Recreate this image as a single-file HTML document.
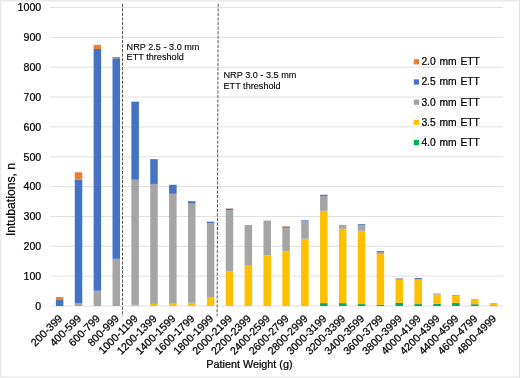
<!DOCTYPE html><html><head><meta charset="utf-8"><style>
html,body{margin:0;padding:0;background:#fff;}
svg{display:block;font-family:"Liberation Sans",Arial,sans-serif;}text{stroke:#000;stroke-width:0.22px;} .ann{stroke-width:0.1px;}
</style></head><body>
<svg width="520" height="378" viewBox="0 0 520 378">
<rect x="0" y="0" width="520" height="378" fill="#fff"/>
<line x1="50.2" y1="306" x2="503.08" y2="306" stroke="#e0e0e0" stroke-width="1"/>
<line x1="50.2" y1="276.15" x2="503.08" y2="276.15" stroke="#e0e0e0" stroke-width="1"/>
<line x1="50.2" y1="246.3" x2="503.08" y2="246.3" stroke="#e0e0e0" stroke-width="1"/>
<line x1="50.2" y1="216.45" x2="503.08" y2="216.45" stroke="#e0e0e0" stroke-width="1"/>
<line x1="50.2" y1="186.6" x2="503.08" y2="186.6" stroke="#e0e0e0" stroke-width="1"/>
<line x1="50.2" y1="156.75" x2="503.08" y2="156.75" stroke="#e0e0e0" stroke-width="1"/>
<line x1="50.2" y1="126.9" x2="503.08" y2="126.9" stroke="#e0e0e0" stroke-width="1"/>
<line x1="50.2" y1="97.05" x2="503.08" y2="97.05" stroke="#e0e0e0" stroke-width="1"/>
<line x1="50.2" y1="67.2" x2="503.08" y2="67.2" stroke="#e0e0e0" stroke-width="1"/>
<line x1="50.2" y1="37.35" x2="503.08" y2="37.35" stroke="#e0e0e0" stroke-width="1"/>
<line x1="50.2" y1="7.5" x2="503.08" y2="7.5" stroke="#e0e0e0" stroke-width="1"/>
<rect x="55.89" y="300.03" width="7.5" height="5.97" fill="#4472C4"/>
<rect x="55.89" y="297.05" width="7.5" height="2.98" fill="#ED7D31"/>
<rect x="74.76" y="303.01" width="7.5" height="2.98" fill="#A5A5A5"/>
<rect x="74.76" y="179.73" width="7.5" height="123.28" fill="#4472C4"/>
<rect x="74.76" y="172.27" width="7.5" height="7.46" fill="#ED7D31"/>
<rect x="93.62" y="290.78" width="7.5" height="15.22" fill="#A5A5A5"/>
<rect x="93.62" y="48.99" width="7.5" height="241.78" fill="#4472C4"/>
<rect x="93.62" y="44.81" width="7.5" height="4.18" fill="#ED7D31"/>
<rect x="112.5" y="258.84" width="7.5" height="47.16" fill="#A5A5A5"/>
<rect x="112.5" y="58.25" width="7.5" height="200.59" fill="#4472C4"/>
<rect x="112.5" y="57.05" width="7.5" height="1.19" fill="#ED7D31"/>
<rect x="131.37" y="304.81" width="7.5" height="1.19" fill="#FFC000"/>
<rect x="131.37" y="179.73" width="7.5" height="125.07" fill="#A5A5A5"/>
<rect x="131.37" y="101.83" width="7.5" height="77.91" fill="#4472C4"/>
<rect x="131.37" y="101.53" width="7.5" height="0.3" fill="#ED7D31"/>
<rect x="150.24" y="303.91" width="7.5" height="2.09" fill="#FFC000"/>
<rect x="150.24" y="183.91" width="7.5" height="120" fill="#A5A5A5"/>
<rect x="150.24" y="159.14" width="7.5" height="24.78" fill="#4472C4"/>
<rect x="169.11" y="303.76" width="7.5" height="2.24" fill="#FFC000"/>
<rect x="169.11" y="193.76" width="7.5" height="110" fill="#A5A5A5"/>
<rect x="169.11" y="184.81" width="7.5" height="8.96" fill="#4472C4"/>
<rect x="187.98" y="302.72" width="7.5" height="3.28" fill="#FFC000"/>
<rect x="187.98" y="203.61" width="7.5" height="99.1" fill="#A5A5A5"/>
<rect x="187.98" y="201.23" width="7.5" height="2.39" fill="#4472C4"/>
<rect x="206.85" y="297.49" width="7.5" height="8.51" fill="#FFC000"/>
<rect x="206.85" y="223.17" width="7.5" height="74.33" fill="#A5A5A5"/>
<rect x="206.85" y="221.67" width="7.5" height="1.49" fill="#4472C4"/>
<rect x="225.72" y="271.08" width="7.5" height="34.92" fill="#FFC000"/>
<rect x="225.72" y="210.18" width="7.5" height="60.89" fill="#A5A5A5"/>
<rect x="225.72" y="208.69" width="7.5" height="1.49" fill="#4472C4"/>
<rect x="225.72" y="208.39" width="7.5" height="0.3" fill="#ED7D31"/>
<rect x="244.59" y="265.7" width="7.5" height="40.3" fill="#FFC000"/>
<rect x="244.59" y="225.11" width="7.5" height="40.6" fill="#A5A5A5"/>
<rect x="263.46" y="255.25" width="7.5" height="50.74" fill="#FFC000"/>
<rect x="263.46" y="220.63" width="7.5" height="34.63" fill="#A5A5A5"/>
<rect x="282.32" y="251.37" width="7.5" height="54.63" fill="#FFC000"/>
<rect x="282.32" y="227.79" width="7.5" height="23.58" fill="#A5A5A5"/>
<rect x="282.32" y="226.6" width="7.5" height="1.19" fill="#4472C4"/>
<rect x="282.32" y="226.15" width="7.5" height="0.45" fill="#ED7D31"/>
<rect x="301.19" y="238.84" width="7.5" height="67.16" fill="#FFC000"/>
<rect x="301.19" y="221.08" width="7.5" height="17.76" fill="#A5A5A5"/>
<rect x="301.19" y="220.33" width="7.5" height="0.75" fill="#4472C4"/>
<rect x="320.06" y="303.1" width="7.5" height="2.9" fill="#00B050"/>
<rect x="320.06" y="210.87" width="7.5" height="92.24" fill="#FFC000"/>
<rect x="320.06" y="195.94" width="7.5" height="14.92" fill="#A5A5A5"/>
<rect x="320.06" y="194.75" width="7.5" height="1.19" fill="#4472C4"/>
<rect x="338.94" y="303.1" width="7.5" height="2.9" fill="#00B050"/>
<rect x="338.94" y="228.78" width="7.5" height="74.33" fill="#FFC000"/>
<rect x="338.94" y="224.9" width="7.5" height="3.88" fill="#A5A5A5"/>
<rect x="357.81" y="304.09" width="7.5" height="1.91" fill="#00B050"/>
<rect x="357.81" y="230.78" width="7.5" height="73.31" fill="#FFC000"/>
<rect x="357.81" y="225.41" width="7.5" height="5.37" fill="#A5A5A5"/>
<rect x="357.81" y="224.21" width="7.5" height="1.19" fill="#4472C4"/>
<rect x="376.68" y="304.69" width="7.5" height="1.31" fill="#00B050"/>
<rect x="376.68" y="254.09" width="7.5" height="50.6" fill="#FFC000"/>
<rect x="376.68" y="252" width="7.5" height="2.09" fill="#A5A5A5"/>
<rect x="376.68" y="251.11" width="7.5" height="0.9" fill="#4472C4"/>
<rect x="395.55" y="302.72" width="7.5" height="3.28" fill="#00B050"/>
<rect x="395.55" y="279.91" width="7.5" height="22.81" fill="#FFC000"/>
<rect x="395.55" y="278.42" width="7.5" height="1.49" fill="#A5A5A5"/>
<rect x="395.55" y="278.12" width="7.5" height="0.3" fill="#4472C4"/>
<rect x="414.42" y="304.09" width="7.5" height="1.91" fill="#00B050"/>
<rect x="414.42" y="279.85" width="7.5" height="24.24" fill="#FFC000"/>
<rect x="414.42" y="278.96" width="7.5" height="0.9" fill="#A5A5A5"/>
<rect x="414.42" y="278.06" width="7.5" height="0.9" fill="#4472C4"/>
<rect x="433.29" y="303.79" width="7.5" height="2.21" fill="#00B050"/>
<rect x="433.29" y="294.54" width="7.5" height="9.25" fill="#FFC000"/>
<rect x="433.29" y="294.09" width="7.5" height="0.45" fill="#A5A5A5"/>
<rect x="433.29" y="293.64" width="7.5" height="0.45" fill="#4472C4"/>
<rect x="452.16" y="302.9" width="7.5" height="3.1" fill="#00B050"/>
<rect x="452.16" y="296.03" width="7.5" height="6.87" fill="#FFC000"/>
<rect x="452.16" y="295.05" width="7.5" height="0.99" fill="#A5A5A5"/>
<rect x="471.03" y="304.21" width="7.5" height="1.79" fill="#00B050"/>
<rect x="471.03" y="299.43" width="7.5" height="4.78" fill="#FFC000"/>
<rect x="471.03" y="299.13" width="7.5" height="0.3" fill="#4472C4"/>
<rect x="489.9" y="305.4" width="7.5" height="0.6" fill="#00B050"/>
<rect x="489.9" y="303.01" width="7.5" height="2.39" fill="#FFC000"/>
<text x="41.2" y="309.8" font-size="10.6" text-anchor="end" fill="#000">0</text>
<text x="41.2" y="279.95" font-size="10.6" text-anchor="end" fill="#000">100</text>
<text x="41.2" y="250.1" font-size="10.6" text-anchor="end" fill="#000">200</text>
<text x="41.2" y="220.25" font-size="10.6" text-anchor="end" fill="#000">300</text>
<text x="41.2" y="190.4" font-size="10.6" text-anchor="end" fill="#000">400</text>
<text x="41.2" y="160.55" font-size="10.6" text-anchor="end" fill="#000">500</text>
<text x="41.2" y="130.7" font-size="10.6" text-anchor="end" fill="#000">600</text>
<text x="41.2" y="100.85" font-size="10.6" text-anchor="end" fill="#000">700</text>
<text x="41.2" y="71" font-size="10.6" text-anchor="end" fill="#000">800</text>
<text x="41.2" y="41.15" font-size="10.6" text-anchor="end" fill="#000">900</text>
<text x="41.2" y="11.3" font-size="10.6" text-anchor="end" fill="#000">1000</text>
<text font-size="10.7" text-anchor="end" fill="#000" transform="translate(63.04 319.2) rotate(-45)">200-399</text>
<text font-size="10.7" text-anchor="end" fill="#000" transform="translate(81.91 319.2) rotate(-45)">400-599</text>
<text font-size="10.7" text-anchor="end" fill="#000" transform="translate(100.78 319.2) rotate(-45)">600-799</text>
<text font-size="10.7" text-anchor="end" fill="#000" transform="translate(119.65 319.2) rotate(-45)">800-999</text>
<text font-size="10.7" text-anchor="end" fill="#000" transform="translate(138.52 319.2) rotate(-45)">1000-1199</text>
<text font-size="10.7" text-anchor="end" fill="#000" transform="translate(157.39 319.2) rotate(-45)">1200-1399</text>
<text font-size="10.7" text-anchor="end" fill="#000" transform="translate(176.26 319.2) rotate(-45)">1400-1599</text>
<text font-size="10.7" text-anchor="end" fill="#000" transform="translate(195.13 319.2) rotate(-45)">1600-1799</text>
<text font-size="10.7" text-anchor="end" fill="#000" transform="translate(214 319.2) rotate(-45)">1800-1999</text>
<text font-size="10.7" text-anchor="end" fill="#000" transform="translate(232.87 319.2) rotate(-45)">2000-2199</text>
<text font-size="10.7" text-anchor="end" fill="#000" transform="translate(251.74 319.2) rotate(-45)">2200-2399</text>
<text font-size="10.7" text-anchor="end" fill="#000" transform="translate(270.61 319.2) rotate(-45)">2400-2599</text>
<text font-size="10.7" text-anchor="end" fill="#000" transform="translate(289.47 319.2) rotate(-45)">2600-2799</text>
<text font-size="10.7" text-anchor="end" fill="#000" transform="translate(308.34 319.2) rotate(-45)">2800-2999</text>
<text font-size="10.7" text-anchor="end" fill="#000" transform="translate(327.21 319.2) rotate(-45)">3000-3199</text>
<text font-size="10.7" text-anchor="end" fill="#000" transform="translate(346.08 319.2) rotate(-45)">3200-3399</text>
<text font-size="10.7" text-anchor="end" fill="#000" transform="translate(364.95 319.2) rotate(-45)">3400-3599</text>
<text font-size="10.7" text-anchor="end" fill="#000" transform="translate(383.82 319.2) rotate(-45)">3600-3799</text>
<text font-size="10.7" text-anchor="end" fill="#000" transform="translate(402.69 319.2) rotate(-45)">3800-3999</text>
<text font-size="10.7" text-anchor="end" fill="#000" transform="translate(421.56 319.2) rotate(-45)">4000-4199</text>
<text font-size="10.7" text-anchor="end" fill="#000" transform="translate(440.44 319.2) rotate(-45)">4200-4399</text>
<text font-size="10.7" text-anchor="end" fill="#000" transform="translate(459.31 319.2) rotate(-45)">4400-4599</text>
<text font-size="10.7" text-anchor="end" fill="#000" transform="translate(478.18 319.2) rotate(-45)">4600-4799</text>
<text font-size="10.7" text-anchor="end" fill="#000" transform="translate(497.05 319.2) rotate(-45)">4800-4999</text>
<line x1="122.5" y1="3.8" x2="122.5" y2="316.2" stroke="#595959" stroke-width="1" stroke-dasharray="3.15 1.37"/>
<line x1="218.2" y1="3.8" x2="217.1" y2="316.2" stroke="#595959" stroke-width="1" stroke-dasharray="3.2 1.355"/>
<text class="ann" font-size="9.15" fill="#000"><tspan x="126.6" y="49.8">NRP 2.5 - 3.0 mm</tspan><tspan x="126.6" y="60.2">ETT threshold</tspan></text>
<text class="ann" font-size="9.15" fill="#000"><tspan x="223.5" y="78.3">NRP 3.0 - 3.5 mm</tspan><tspan x="223.5" y="88.8">ETT threshold</tspan></text>
<rect x="413.8" y="59.2" width="5.2" height="5.2" fill="#ED7D31"/>
<text x="421.4" y="65.1" font-size="10.3" fill="#000" word-spacing="0.9">2.0 mm ETT</text>
<rect x="413.8" y="79.4" width="5.2" height="5.2" fill="#4472C4"/>
<text x="421.4" y="85.3" font-size="10.3" fill="#000" word-spacing="0.9">2.5 mm ETT</text>
<rect x="413.8" y="99.6" width="5.2" height="5.2" fill="#A5A5A5"/>
<text x="421.4" y="105.5" font-size="10.3" fill="#000" word-spacing="0.9">3.0 mm ETT</text>
<rect x="413.8" y="119.8" width="5.2" height="5.2" fill="#FFC000"/>
<text x="421.4" y="125.7" font-size="10.3" fill="#000" word-spacing="0.9">3.5 mm ETT</text>
<rect x="413.8" y="140" width="5.2" height="5.2" fill="#00B050"/>
<text x="421.4" y="145.9" font-size="10.3" fill="#000" word-spacing="0.9">4.0 mm ETT</text>
<text font-size="12.2" text-anchor="middle" fill="#000" transform="translate(15.1 199.5) rotate(-90)">Intubations, n</text>
<text x="249.4" y="367.6" font-size="10.8" text-anchor="middle" fill="#000">Patient Weight (g)</text>
<rect x="0" y="0" width="520" height="1.6" fill="#ebebeb"/>
<rect x="0" y="0" width="1.6" height="378" fill="#ebebeb"/>
<rect x="0" y="376.4" width="520" height="1.6" fill="#ebebeb"/>
<rect x="519" y="1" width="1" height="377" fill="#e0e0e0"/>
</svg></body></html>
